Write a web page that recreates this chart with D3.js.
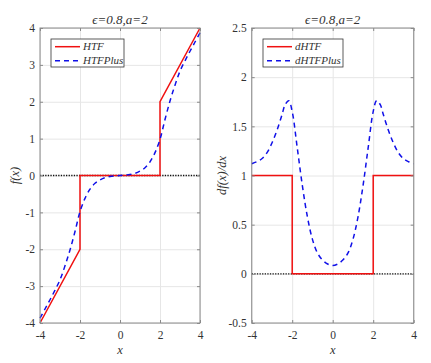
<!DOCTYPE html>
<html>
<head>
<meta charset="utf-8">
<script src="https://cdn.jsdelivr.net/npm/d3@7"></script>
<style>
    body { margin: 0; background: #fff; }
    svg { display: block; }
    svg text { font-family: "Liberation Serif", "Times New Roman", Times, "DejaVu Serif", serif !important; }
</style>
</head>
<body>
<svg id="chart" width="431" height="363"></svg>
<script>
// tick values
var xTicks = [-4, -2, 0, 2, 4];
var leftYTicks = [-4, -3, -2, -1, 0, 1, 2, 3, 4];
var rightYTicks = [-0.5, 0, 0.5, 1, 1.5, 2, 2.5];

// HTF and its derivative (red)
var htfX = [-4, -2, -2, 2, 2, 4];
var htfY = [-4, -2, 0, 0, 2, 4];
var dhtfX = [-4, -2, -2, 2, 2, 4];
var dhtfY = [1, 1, 0, 0, 1, 1];

// HTFPlus (blue dashed)
var plusX = [-4, -3.75, -3.5, -3.25, -3, -2.75, -2.5, -2.25, -2, -1.75, -1.5, -1.25, -1, -0.75, -0.5, -0.25, 0,
    0.25, 0.5, 0.75, 1, 1.25, 1.5, 1.75, 2, 2.25, 2.5, 2.75, 3, 3.25, 3.5, 3.75, 4];
var plusY = [-3.87, -3.62, -3.37, -3.11, -2.83, -2.45, -2.02, -1.52, -0.98, -0.62, -0.37, -0.21, -0.12, -0.06, -0.03, -0.01, 0,
    0.01, 0.03, 0.06, 0.12, 0.21, 0.37, 0.62, 0.98, 1.52, 2.02, 2.45, 2.83, 3.11, 3.37, 3.62, 3.87];

// dHTFPlus (blue dashed)
var dplusX = [-4, -3.75, -3.5, -3.25, -3, -2.75, -2.5, -2.35, -2.17, -2, -1.75, -1.5, -1.25, -1, -0.75, -0.5, -0.25, 0,
    0.25, 0.5, 0.75, 1, 1.25, 1.5, 1.75, 2, 2.17, 2.35, 2.5, 2.75, 3, 3.25, 3.5, 3.75, 4];
var dplusY = [1.12, 1.14, 1.17, 1.23, 1.33, 1.46, 1.62, 1.72, 1.76, 1.65, 1.28, 0.9, 0.58, 0.35, 0.21, 0.14, 0.10, 0.085,
    0.10, 0.14, 0.21, 0.35, 0.58, 0.9, 1.28, 1.65, 1.76, 1.72, 1.62, 1.46, 1.33, 1.23, 1.17, 1.14, 1.12];

// zero reference (black dotted)
var zeroX = [-4, 4];
var zeroY = [0, 0];

var axisColor = "#8a8a8a";
var gridColor = "#e6e6e6";
var textColor = "#333";
var serif = "'Liberation Serif', 'Times New Roman', Times, 'DejaVu Serif', serif";

var svg = d3.select("#chart").attr("font-family", serif);

function fmt(d) {
    return String(d);
}

function zip(xs, ys) {
    return xs.map(function (v, i) { return [v, ys[i]]; });
}

function drawPanel(p) {
    var x = d3.scaleLinear().domain([-4, 4]).range([p.left, p.right]);
    var y = d3.scaleLinear().domain(p.yDomain).range([p.bottom, p.top]);
    var h = p.bottom - p.top;
    var w = p.right - p.left;
    var g = svg.append("g");

    // grid
    var gx = g.append("g")
        .attr("transform", "translate(0," + p.bottom + ")")
        .call(d3.axisBottom(x).tickValues(xTicks).tickSize(-h).tickFormat(""));
    var gy = g.append("g")
        .attr("transform", "translate(" + p.left + ",0)")
        .call(d3.axisLeft(y).tickValues(p.yTicks).tickSize(-w).tickFormat(""));
    [gx, gy].forEach(function (a) {
        a.select(".domain").remove();
        a.selectAll("line").attr("stroke", gridColor);
    });

    // data lines
    var line = d3.line()
        .x(function (d) { return x(d[0]); })
        .y(function (d) { return y(d[1]); });

    g.append("path")
        .datum(zip(zeroX, zeroY))
        .attr("d", line)
        .attr("fill", "none")
        .attr("stroke", "#111")
        .attr("stroke-width", 1.3)
        .attr("stroke-dasharray", "1.3,1.3");

    g.append("path")
        .datum(zip(p.redX, p.redY))
        .attr("d", line)
        .attr("fill", "none")
        .attr("stroke", "#f01010")
        .attr("stroke-width", 1.5);

    g.append("path")
        .datum(zip(p.blueX, p.blueY))
        .attr("d", line.curve(d3.curveCatmullRom))
        .attr("fill", "none")
        .attr("stroke", "#1010e8")
        .attr("stroke-width", 1.5)
        .attr("stroke-dasharray", "5,4");

    // axes with inside ticks on all four sides
    var axB = g.append("g").attr("transform", "translate(0," + p.bottom + ")")
        .call(d3.axisBottom(x).tickValues(xTicks).tickSize(-3).tickPadding(8).tickFormat(fmt));
    var axT = g.append("g").attr("transform", "translate(0," + p.top + ")")
        .call(d3.axisTop(x).tickValues(xTicks).tickSize(-3).tickFormat(""));
    var axL = g.append("g").attr("transform", "translate(" + p.left + ",0)")
        .call(d3.axisLeft(y).tickValues(p.yTicks).tickSize(-3).tickPadding(5).tickFormat(fmt));
    var axR = g.append("g").attr("transform", "translate(" + p.right + ",0)")
        .call(d3.axisRight(y).tickValues(p.yTicks).tickSize(-3).tickFormat(""));
    [axB, axT, axL, axR].forEach(function (a) {
        a.attr("font-family", serif).attr("font-size", 11.5);
        a.select(".domain").remove();
        a.selectAll("line").attr("stroke", axisColor);
        a.selectAll("text").attr("fill", textColor);
    });

    g.append("rect")
        .attr("x", p.left).attr("y", p.top)
        .attr("width", w).attr("height", h)
        .attr("fill", "none")
        .attr("stroke", axisColor)
        .attr("stroke-width", 1);

    // title and axis labels
    g.append("text")
        .attr("x", (p.left + p.right) / 2).attr("y", 23.5)
        .attr("text-anchor", "middle")
        .attr("fill", textColor)
        .attr("font-size", 13).attr("font-style", "italic")
        .text(p.title);

    g.append("text")
        .attr("x", (p.left + p.right) / 2).attr("y", 353.5)
        .attr("text-anchor", "middle")
        .attr("fill", textColor)
        .attr("font-size", 12.5).attr("font-style", "italic")
        .text("x");

    g.append("text")
        .attr("transform", "translate(" + p.yLabelX + "," + ((p.top + p.bottom) / 2) + ") rotate(-90)")
        .attr("text-anchor", "middle")
        .attr("fill", textColor)
        .attr("font-size", 12.5).attr("font-style", "italic")
        .text(p.yLabel);

    // legend
    var lg = g.append("g");
    lg.append("rect")
        .attr("x", p.legend.x).attr("y", 39)
        .attr("width", p.legend.w).attr("height", 28)
        .attr("fill", "#fff")
        .attr("stroke", "#333")
        .attr("stroke-width", 0.8);
    var items = [
        {label: p.legend.labels[0], color: "#f01010", dash: null, y: 46.7},
        {label: p.legend.labels[1], color: "#1010e8", dash: "5,4", y: 60.7}
    ];
    items.forEach(function (it) {
        lg.append("line")
            .attr("x1", p.legend.x + 4).attr("x2", p.legend.x + 29)
            .attr("y1", it.y).attr("y2", it.y)
            .attr("stroke", it.color)
            .attr("stroke-width", 1.5)
            .attr("stroke-dasharray", it.dash);
        lg.append("text")
            .attr("x", p.legend.x + 32).attr("y", it.y + 3.6)
            .attr("fill", textColor)
            .attr("font-size", 11).attr("font-style", "italic")
            .text(it.label);
    });
}

drawPanel({
    left: 40, right: 200, top: 28, bottom: 323,
    yDomain: [-4, 4], yTicks: leftYTicks,
    redX: htfX, redY: htfY, blueX: plusX, blueY: plusY,
    title: "\u03f5=0.8,a=2", yLabel: "f(x)", yLabelX: 19,
    legend: {x: 51, w: 73, labels: ["HTF", "HTFPlus"]}
});

drawPanel({
    left: 251.7, right: 413.7, top: 28, bottom: 323,
    yDomain: [-0.5, 2.5], yTicks: rightYTicks,
    redX: dhtfX, redY: dhtfY, blueX: dplusX, blueY: dplusY,
    title: "\u03f5=0.8,a=2", yLabel: "df(x)/dx", yLabelX: 226,
    legend: {x: 263, w: 80, labels: ["dHTF", "dHTFPlus"]}
});
</script>
</body>
</html>
